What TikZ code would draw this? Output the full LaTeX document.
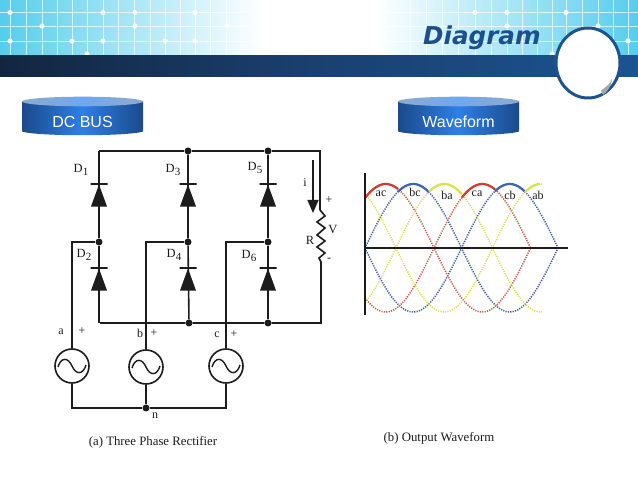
\documentclass[tikz,border=0pt]{standalone}
\usepackage{fontspec}
\setmainfont{Liberation Serif}
\newfontfamily\sansf{Liberation Sans}
\newfontfamily\titlef{DejaVu Sans}
\usetikzlibrary{shapes.geometric,arrows.meta}
\definecolor{wire}{HTML}{1C1C1C}
\definecolor{cyanbg}{HTML}{55CDEC}
\definecolor{titleblue}{HTML}{1D4F8C}
\definecolor{ringblue}{HTML}{1C5390}
\definecolor{banda}{HTML}{12263F}
\definecolor{bandb}{HTML}{1A3F6E}
\definecolor{wblue}{HTML}{3F5AA6}
\definecolor{wred}{HTML}{C65F45}
\definecolor{wyel}{HTML}{D9E060}
\definecolor{sred}{HTML}{D23C30}
\definecolor{sblue}{HTML}{3D66AE}
\definecolor{syel}{HTML}{D6E348}
\definecolor{cyledge}{HTML}{1B4A8C}
\definecolor{cylmid}{HTML}{2E7FE6}
\definecolor{capedge}{HTML}{8FAACB}
\definecolor{capmid}{HTML}{6FA8F0}
\tikzset{
  wirel/.style={draw=wire,line width=1.6pt},
  jdot/.style={circle,fill=wire,inner sep=0pt,minimum size=7pt},
  diodetri/.style={isosceles triangle,isosceles triangle stretches,shape border rotate=90,fill=wire,inner sep=0pt,minimum height=22pt,minimum width=16pt,anchor=apex},
  diodebar/.style={draw=wire,line width=1.4pt,minimum width=17pt,minimum height=0pt,inner sep=0pt,rectangle},
  source/.style={circle,draw=wire,line width=1.6pt,fill=white,minimum size=34pt,inner sep=0pt},
  dlabel/.style={font=\fontsize{12.5}{12}\selectfont,inner sep=0pt,text=wire},
  clabel/.style={font=\fontsize{12}{12}\selectfont,inner sep=0pt,text=wire},
  caption/.style={font=\fontsize{12.8}{13}\selectfont,inner sep=0pt,text=wire},
  gridw/.style={draw=white,line width=.7pt,opacity=.7},
  gdot/.style={fill=white,opacity=.9},
  dotw/.style={line width=1.5pt,dash pattern=on 1.2pt off 1.2pt},
  solidw/.style={line width=2.2pt},
  cyltext/.style={text=white,font=\sansf\fontsize{16}{16}\selectfont,inner sep=0pt}
}
\newcommand{\sbs}[1]{\raisebox{-3pt}{\fontsize{11}{11}\selectfont #1}}
\newcommand{\acwave}[1]{\draw[draw=wire,line width=1.4pt] ([shift={(-14,1)}]#1.center) .. controls ([shift={(-11,-9)}]#1.center) and ([shift={(-4,-9)}]#1.center) .. (#1.center) .. controls ([shift={(4,9)}]#1.center) and ([shift={(11,9)}]#1.center) .. ([shift={(14,-1)}]#1.center);}
\newcommand{\cyl}[4]{%
  \shade[left color=cyledge,right color=cyledge,middle color=cylmid] (#1,101.5) -- (#2,101.5) -- (#2,131.5) .. controls (#2-15,136.5) and (#1+15,136.5) .. (#1,131.5) -- cycle;
  \shade[left color=capedge,right color=capedge,middle color=capmid] ({(#1+#2)/2},101.5) ellipse ({(#2-#1)/2} and 4.8);
  \node[cyltext] (#3) at ({(#1+#2)/2},122) {#4};}
\begin{document}
\begin{tikzpicture}[x=1pt,y=-1pt]
\useasboundingbox (0,0) rectangle (638,478);
\fill[white] (0,0) rectangle (638,478);
% header
\shade[left color=cyanbg,right color=white] (0,0) rectangle (262,55);
\shade[left color=white,right color=cyanbg] (375,0) rectangle (638,55);
\foreach \x in {10,26,42,57,72,87,103,118,134,150,165,180,195,210,226,241}
  \draw[gridw] (\x,0) -- (\x,55);
\foreach \x in {410,426,442,458,475,491,507,522,537,552,566,582,598,613,628}
  \draw[gridw] (\x,0) -- (\x,55);
\foreach \y in {12.5,26,41} {
  \draw[gridw] (0,\y) -- (262,\y);
  \draw[gridw] (385,\y) -- (638,\y);
}
\foreach \p in {(10,12.5),(103,12.5),(135,12.5),(195,12.5),(42,26),(135,26),(227,26),(10,41),(72,41),(103,41),(165,41),(195,41),(257,41),(87,54),(475,12.5),(507,12.5),(566,12.5),(507,26),(598,26),(628,41),(552,54)}
  \fill[gdot] \p circle (2.6);
\shade[left color=banda,right color=bandb] (0,55.5) rectangle (300,76.5);
\shade[left color=bandb,right color=ringblue] (300,55.5) rectangle (638,76.5);
\node[font=\titlef\bfseries\itshape\fontsize{24.6}{25}\selectfont,text=titleblue,inner sep=0pt,anchor=base west] (title) at (423,44.5) {Diagram};
\node[ellipse,draw=ringblue,line width=3pt,fill=white,minimum width=64pt,minimum height=70pt,inner sep=0pt] (ring) at (588,63) {};
\fill[black!35] (601,90.5) .. controls (606,87) and (610,84) .. (612,79) .. controls (611,87) and (607,92) .. (603,95) -- cycle;
% cylinders
\cyl{22}{143}{dcbus}{DC BUS}
\cyl{398}{519}{wavef}{Waveform}
% circuit
\node[jdot] (t3) at (188,151) {};
\node[jdot] (t5) at (268,151) {};
\node[jdot] (m1) at (99,242) {};
\node[jdot] (m3) at (188,242) {};
\node[jdot] (m5) at (268,242) {};
\node[jdot] (b3) at (189,323) {};
\node[jdot] (b5) at (268,323) {};
\coordinate (tl) at (99,151);
\coordinate (tr) at (320,151);
\coordinate (rt) at (320,210);
\coordinate (rb) at (321,262);
\coordinate (br) at (321,323);
\coordinate (bl) at (100,323);
\draw[wirel] (tl) -- (t3) -- (t5) -- (tr) -- (rt);
\draw[wirel] (rt) -- (325,216) -- (317,222) -- (325,228) -- (317,235) -- (325,241) -- (317,247) -- (325,253) -- (319,258) -- (rb) -- (br) -- (b5) -- (b3) -- (bl);
\draw[wirel] (tl) -- (m1);
\draw[wirel] (m1) -- (99,323);
\draw[wirel] (t3) -- (m3) -- (b3);
\draw[wirel] (t5) -- (m5) -- (b5);
\foreach \n/\x/\y in {d1/99/184,d3/188/184,d5/268/184,d2/99/268,d4/188/268,d6/268/268} {
  \node[diodetri] (\n) at (\x,\y) {};
  \node[diodebar] (\n bar) at (\x,\y) {};
}
\node[source] (sa) at (72,366) {};
\node[source] (sb) at (146,367) {};
\node[source] (sc) at (226,366) {};
\acwave{sa}\acwave{sb}\acwave{sc}
\node[jdot] (nn) at (146,408) {};
\coordinate (al) at (70,408);
\coordinate (cr) at (227,408);
\draw[wirel] (m1) -| (sa.north);
\draw[wirel] (m3) -| (sb.north);
\draw[wirel] (m5) -| (sc.north);
\draw[wirel] (sa.south) -- (sa.south |- al) -- (nn);
\draw[wirel] (sb.south) -- (nn);
\draw[wirel] (nn) -- (sc.south |- cr) -- (sc.south);
\node[dlabel] (ld1) at (81,170) {D\sbs{1}};
\node[dlabel] (ld3) at (173,170) {D\sbs{3}};
\node[dlabel] (ld5) at (255,168) {D\sbs{5}};
\node[dlabel] (ld2) at (84,255) {D\sbs{2}};
\node[dlabel] (ld4) at (174,255) {D\sbs{4}};
\node[dlabel] (ld6) at (249,256) {D\sbs{6}};
\coordinate (ia) at (313,160);
\coordinate (ib) at (313,213);
\draw[wire,line width=1.4pt,-{Triangle[length=13pt,width=11pt]}] (ia) -- (ib);
\node[clabel] (li) at (305,183) {i};
\node[clabel] (lp) at (329,200) {+};
\node[dlabel,font=\fontsize{12.5}{12}\selectfont] (lv) at (333,230) {V};
\node[dlabel,font=\fontsize{12.5}{12}\selectfont] (lr) at (310,240) {R};
\node[clabel] (lm) at (329,260) {-};
\node[clabel] (la) at (61,332) {a};
\node[clabel] (lap) at (82,331) {+};
\node[clabel] (lb) at (140,333) {b};
\node[clabel] (lbp) at (154,333) {+};
\node[clabel] (lc) at (217,335) {c};
\node[clabel] (lcp) at (234,334) {+};
\node[clabel] (ln) at (155,416) {n};
\node[caption] (capa) at (153,442) {(a) Three Phase Rectifier};
% waveform
\foreach \s in {1,-1}
  \draw[wblue,dotw] plot[domain=365:558,samples=120] (\x,{248-\s*64*sin(1.8653*(\x-365))});
\draw[wred,dotw] plot[domain=365:531,samples=120] (\x,{248+64*sin(1.8653*(\x-434))});
\draw[wred,dotw] plot[domain=365:531,samples=120] (\x,{248-64*sin(1.8653*(\x-434))});
\draw[wyel,dotw] plot[domain=365:543,samples=120] (\x,{248+64*sin(1.8653*(\x-396))});
\draw[wyel,dotw] plot[domain=365:543,samples=120] (\x,{248-64*sin(1.8653*(\x-396))});
\draw[sred,solidw] plot[domain=365:398,samples=20] (\x,{248+64*sin(1.8653*(\x-434))});
\draw[sblue,solidw] plot[domain=398:429,samples=20] (\x,{248-64*sin(1.8653*(\x-365))});
\draw[syel,solidw] plot[domain=429:462,samples=20] (\x,{248-64*sin(1.8653*(\x-396))});
\draw[sred,solidw] plot[domain=462:495,samples=20] (\x,{248-64*sin(1.8653*(\x-434))});
\draw[sblue,solidw] plot[domain=495:525,samples=20] (\x,{248+64*sin(1.8653*(\x-365))});
\draw[syel,solidw] plot[domain=525:540,samples=20] (\x,{248+64*sin(1.8653*(\x-396))});
\coordinate (ax1) at (365,173);
\coordinate (ax2) at (365,315);
\coordinate (ay1) at (365,248);
\coordinate (ay2) at (568,248);
\draw[wire,line width=1.7pt] (ax1) -- (ax2);
\draw[wire,line width=1.7pt] (ay1) -- (ay2);
\node[clabel] (wac) at (381,194) {ac};
\node[clabel] (wbc) at (415,192) {bc};
\node[clabel] (wba) at (447,195) {ba};
\node[clabel] (wca) at (477,194) {ca};
\node[clabel] (wcb) at (510,195) {cb};
\node[clabel] (wab) at (538,195) {ab};
\node[caption] (capb) at (439,438) {(b) Output Waveform};
\end{tikzpicture}
\end{document}
